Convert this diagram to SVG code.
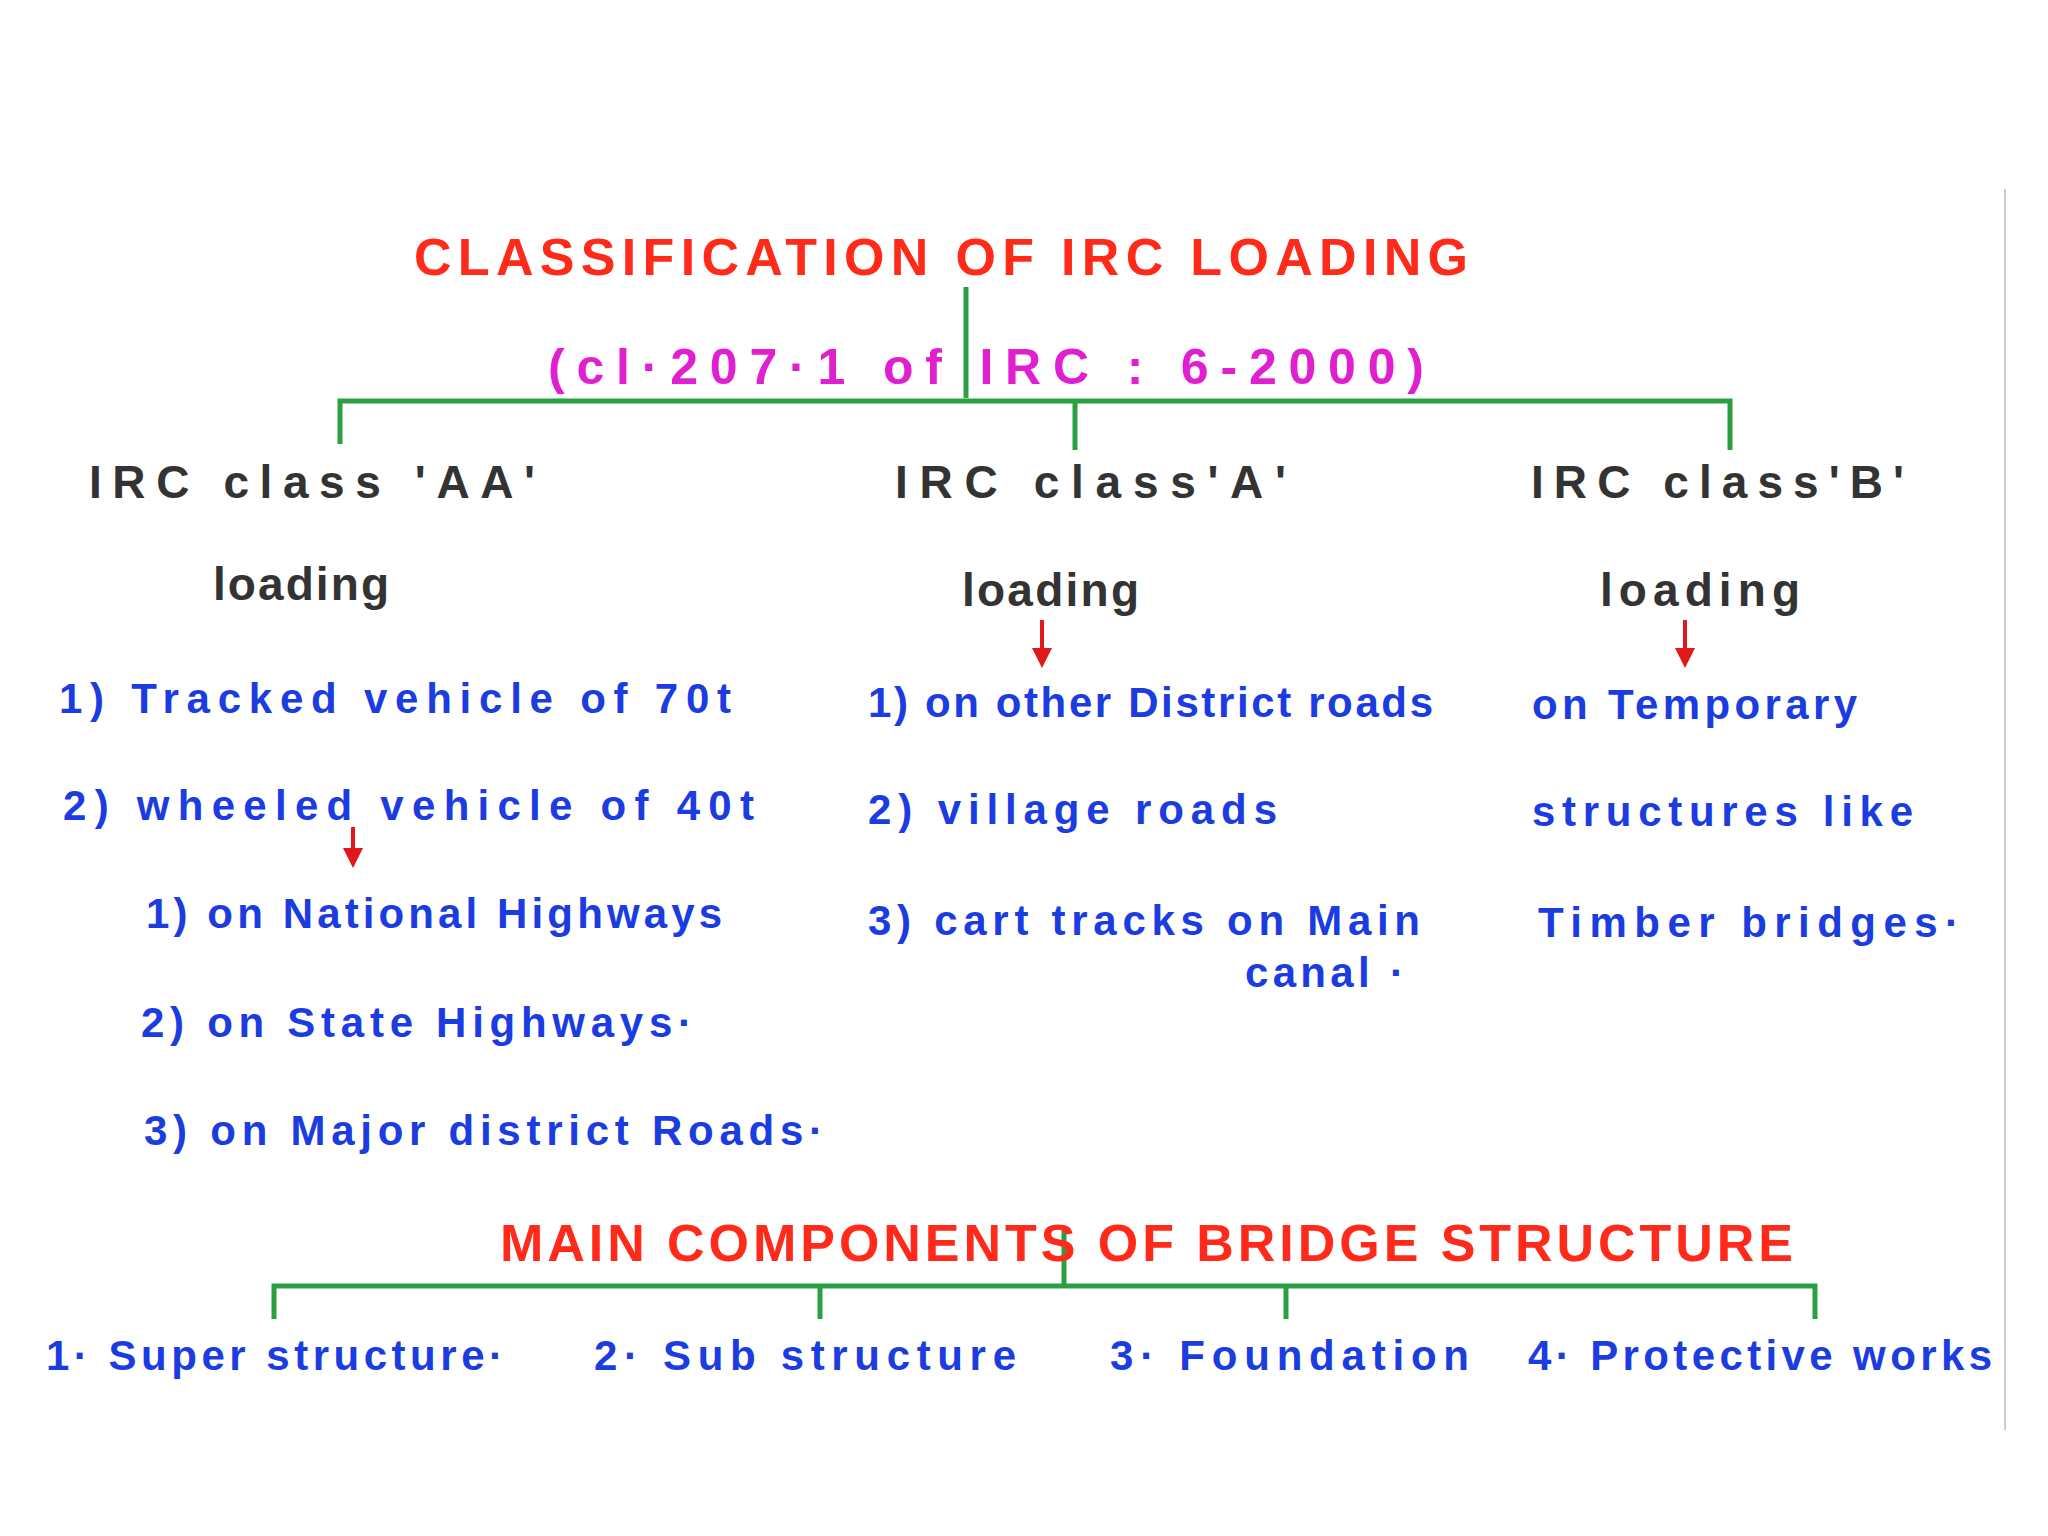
<svg xmlns="http://www.w3.org/2000/svg" width="2048" height="1536" viewBox="0 0 2048 1536">
<defs>
<style>
text{font-family:"Liberation Sans",Arial,sans-serif;font-weight:bold}
.t{fill:#ff2a1a;font-size:52px}
.s{fill:#e020d0;font-size:50px}
.h{fill:#333;font-size:46px}
.b{fill:#1a3ce0;font-size:42px}
.g{stroke:#2aa040;stroke-width:5;fill:none}
.r{stroke:#e01818;stroke-width:4;fill:none}
</style>
<marker id="ah" viewBox="0 0 10 10" refX="8" refY="5" markerWidth="5" markerHeight="5" orient="auto"><path d="M0,0L10,5L0,10z" fill="#e01818"/></marker>
</defs>
<rect width="2048" height="1536" fill="#fff"/>
<line x1="2005" y1="189" x2="2005" y2="1430" stroke="#ccc" stroke-width="2"/>
<g id="title"><text class="t" x="414" y="275" textLength="1054" lengthAdjust="spacing">CLASSIFICATION OF IRC LOADING</text>
<text class="s" x="548" y="384" textLength="876" lengthAdjust="spacing">(cl·207·1 of IRC : 6-2000)</text></g>
<g id="connectors">
<path class="g" d="M966 287V398M340 444V401H1730V450M1075 401V450"/>
<path class="g" d="M1064 1228V1286M274 1319V1286H1815V1319M820 1286V1319M1286 1286V1319"/>
<line class="r" x1="1042" y1="620" x2="1042" y2="664" marker-end="url(#ah)"/>
<line class="r" x1="1685" y1="620" x2="1685" y2="664" marker-end="url(#ah)"/>
<line class="r" x1="353" y1="827" x2="353" y2="864" marker-end="url(#ah)"/>
</g>
<g id="classAA"><text class="h" x="89" y="498" textLength="446" lengthAdjust="spacing">IRC class 'AA'</text>
<text class="h" x="213" y="600" textLength="176" lengthAdjust="spacing">loading</text>
<text class="b" x="59" y="713" textLength="672" lengthAdjust="spacing">1) Tracked vehicle of 70t</text>
<text class="b" x="63" y="820" textLength="691" lengthAdjust="spacing">2) wheeled vehicle of 40t</text>
<text class="b" x="146" y="928" textLength="576" lengthAdjust="spacing">1) on National Highways</text>
<text class="b" x="141" y="1037" textLength="551" lengthAdjust="spacing">2) on State Highways·</text>
<text class="b" x="144" y="1145" textLength="679" lengthAdjust="spacing">3) on Major district Roads·</text></g>
<g id="classA"><text class="h" x="895" y="498" textLength="391" lengthAdjust="spacing">IRC class'A'</text>
<text class="h" x="962" y="606" textLength="177" lengthAdjust="spacing">loading</text>
<text class="b" x="868" y="717" textLength="565" lengthAdjust="spacing">1) on other District roads</text>
<text class="b" x="868" y="824" textLength="409" lengthAdjust="spacing">2) village roads</text>
<text class="b" x="868" y="935" textLength="552" lengthAdjust="spacing">3) cart tracks on Main</text>
<text class="b" x="1245" y="987" textLength="159" lengthAdjust="spacing">canal ·</text></g>
<g id="classB"><text class="h" x="1531" y="498" textLength="373" lengthAdjust="spacing">IRC class'B'</text>
<text class="h" x="1600" y="606" textLength="200" lengthAdjust="spacing">loading</text>
<text class="b" x="1532" y="719" textLength="325" lengthAdjust="spacing">on Temporary</text>
<text class="b" x="1532" y="826" textLength="381" lengthAdjust="spacing">structures like</text>
<text class="b" x="1538" y="937" textLength="421" lengthAdjust="spacing">Timber bridges·</text></g>
<g id="components"><text class="t" x="500" y="1261" textLength="1293" lengthAdjust="spacing">MAIN COMPONENTS OF BRIDGE STRUCTURE</text>
<text class="b" x="46" y="1370" textLength="457" lengthAdjust="spacing">1· Super structure·</text>
<text class="b" x="594" y="1370" textLength="422" lengthAdjust="spacing">2· Sub structure</text>
<text class="b" x="1110" y="1370" textLength="359" lengthAdjust="spacing">3· Foundation</text>
<text class="b" x="1528" y="1370" textLength="464" lengthAdjust="spacing">4· Protective works</text></g>
</svg>
